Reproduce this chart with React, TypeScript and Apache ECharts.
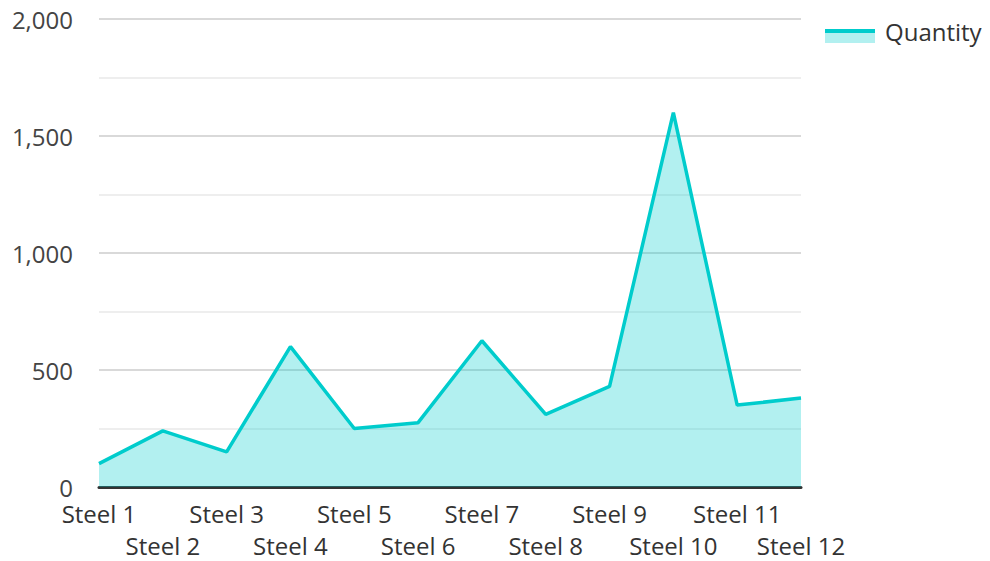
import React, { useEffect, useRef } from "react";
import * as echarts from "echarts";

const categories = ["Steel 1", "Steel 2", "Steel 3", "Steel 4", "Steel 5", "Steel 6", "Steel 7", "Steel 8", "Steel 9", "Steel 10", "Steel 11", "Steel 12"];
const quantity = [100, 240, 150, 600, 250, 275, 625, 310, 430, 1600, 350, 380];
const seriesName = "Quantity";

const FONT = "'Open Sans', 'Noto Sans', sans-serif";
const LINE = "#00cccc";
const FILL = "rgba(0,204,204,0.3)";

export default function App() {
  const ref = useRef<HTMLDivElement>(null);
  useEffect(() => {
    if (!ref.current) return;
    const chart = echarts.init(ref.current, undefined, { renderer: "svg" });
    chart.setOption({
      animation: false,
      textStyle: { fontFamily: FONT },
      grid: { left: 99, right: 189, top: 19, bottom: 74, containLabel: false, outerBoundsMode: "none" },
      legend: {
        left: 825,
        top: 14,
        icon: "rect",
        itemWidth: 50,
        itemHeight: 14,
        itemGap: 10,
        itemStyle: { color: "rgba(0,0,0,0)", borderWidth: 0 },
        lineStyle: { width: 0, opacity: 0 },
        textStyle: { fontSize: 24, color: "#333", fontFamily: FONT },
        data: [seriesName],
      },
      graphic: [
        { type: "rect", left: 825, top: 29, z: 100, shape: { width: 50, height: 14 }, style: { fill: FILL } },
        { type: "rect", left: 825, top: 29, z: 101, shape: { width: 50, height: 4 }, style: { fill: LINE } },
      ],
      xAxis: {
        type: "category",
        data: categories,
        boundaryGap: false,
        axisLine: { lineStyle: { color: "#333", width: 3 } },
        axisTick: { show: false },
        axisLabel: {
          interval: 0,
          fontSize: 24,
          color: "#333",
          lineHeight: 32,
          margin: 10,
          fontFamily: FONT,
          formatter: (v: string, i: number) => (i % 2 === 1 ? "\n" + v : v),
        },
        splitLine: { show: false },
      },
      yAxis: {
        type: "value",
        min: 0,
        max: 2000,
        interval: 500,
        axisLine: { show: false },
        axisTick: { show: false },
        axisLabel: {
          fontSize: 24,
          color: "#444",
          margin: 26,
          fontFamily: FONT,
          formatter: (v: number) => v.toLocaleString("en-US"),
        },
        splitLine: { lineStyle: { color: "#cccccc", width: 1.5 } },
        minorTick: { show: false, splitNumber: 2 },
        minorSplitLine: { show: true, lineStyle: { color: "#e8e8e8", width: 1.5 } },
      },
      series: [
        {
          name: seriesName,
          type: "line",
          data: quantity,
          symbol: "none",
          lineStyle: { color: LINE, width: 3.5 },
          itemStyle: { color: LINE },
          areaStyle: { color: FILL, opacity: 1 },
        },
      ],
    });
    return () => chart.dispose();
  }, []);
  return <div ref={ref} style={{ width: 990, height: 561, position: "absolute", left: 0, top: 0 }} />;
}
